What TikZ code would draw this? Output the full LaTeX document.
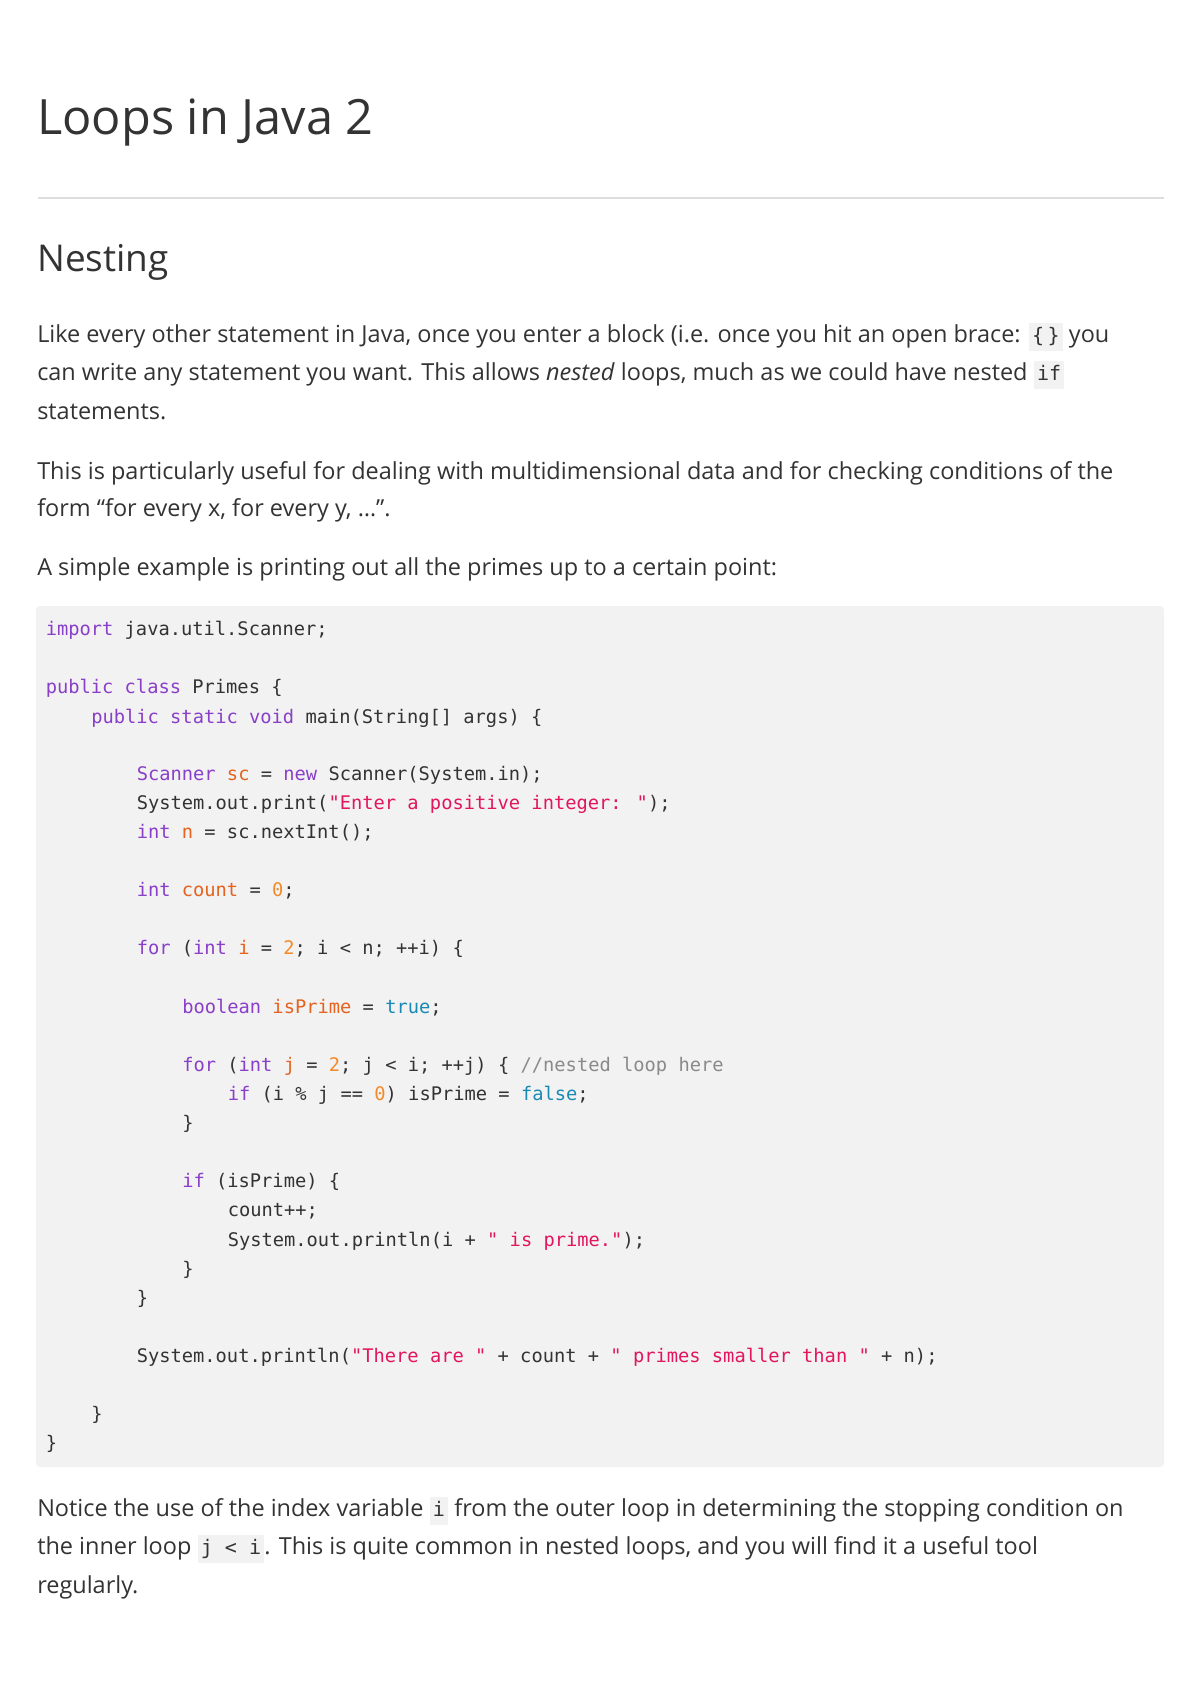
\documentclass[tikz,border=0pt]{standalone}
\usepackage{fontspec}
\setmainfont{Open Sans}
\newfontfamily\cf{DejaVu Sans Mono}
\definecolor{txt}{HTML}{333333}
\definecolor{codebg}{HTML}{F2F2F2}
\definecolor{kw}{HTML}{8A3FC8}
\definecolor{vr}{HTML}{E5631E}
\definecolor{nm}{HTML}{F28A2A}
\definecolor{st}{HTML}{E2165E}
\definecolor{bl}{HTML}{1A8AB5}
\definecolor{cm}{HTML}{8A8A8A}
\definecolor{rulec}{HTML}{DDDDDD}
\newcommand{\K}[1]{\textcolor{kw}{#1}}
\newcommand{\V}[1]{\textcolor{vr}{#1}}
\newcommand{\N}[1]{\textcolor{nm}{#1}}
\newcommand{\Sx}[1]{\textcolor{st}{#1}}
\newcommand{\B}[1]{\textcolor{bl}{#1}}
\newcommand{\C}[1]{\textcolor{cm}{#1}}
\newcommand{\ic}[1]{{\setlength\fboxsep{2.5pt}\colorbox{codebg}{\cf\fontsize{15pt}{15pt}\selectfont\strut #1}}}
\begin{document}
\begin{tikzpicture}[x=0.75pt,y=-0.75pt,
  body/.style={anchor=base west,inner sep=0,text=txt,font=\fontsize{17.6pt}{20pt}\selectfont},
  code/.style={anchor=base west,inner sep=0,text=txt,font=\cf\fontsize{14.05pt}{17pt}\selectfont}]
\useasboundingbox[fill=white] (0,0) rectangle (1200,1698);
\node[body,font=\fontsize{36.5pt}{44pt}\selectfont] (title) at (37,135) {Loops in Java 2};
\draw[rulec,line width=2.2pt] (38,198) -- (1164,198);
\node[body,font=\fontsize{27.7pt}{34pt}\selectfont] (nest) at (37,271) {Nesting};
\node[body] (p1) at (37,342) {Like every other statement in Java, once you enter a block (i.e. once you hit an open brace: \ic{\{\,\}} you};
\node[body] (p2) at (37,380) {can write any statement you want. This allows \textit{nested} loops, much as we could have nested \ic{if}};
\node[body] (p3) at (37,419) {statements.};
\node[body] (p4) at (37,479) {This is particularly useful for dealing with multidimensional data and for checking conditions of the};
\node[body] (p5) at (37,516) {form ``for every x, for every y, \dots''.};
\node[body] (p6) at (37,575) {A simple example is printing out all the primes up to a certain point:};
\fill[codebg,rounded corners=3pt] (36,606) rectangle (1164,1467);
\def\a{45.5}\def\b{91}\def\c{136.5}\def\d{182}\def\e{227.5}
\node[code] (c1) at (\a,635) {\K{import} java.util.Scanner;};
\node[code] (c2) at (\a,693) {\K{public} \K{class} Primes \{};
\node[code] (c3) at (\b,723) {\K{public} \K{static} \K{void} main(String[] args) \{};
\node[code] (c4) at (\c,780) {\K{Scanner} \V{sc} = \K{new} Scanner(System.in);};
\node[code] (c5) at (\c,809) {System.out.print(\Sx{"Enter a positive integer: "});};
\node[code] (c6) at (\c,838) {\K{int} \V{n} = sc.nextInt();};
\node[code] (c7) at (\c,896) {\K{int} \V{count} = \N{0};};
\node[code] (c8) at (\c,954) {\K{for} (\K{int} \V{i} = \N{2}; i < n; ++i) \{};
\node[code] (c9) at (\d,1013) {\K{boolean} \V{isPrime} = \B{true};};
\node[code] (c10) at (\d,1071) {\K{for} (\K{int} \V{j} = \N{2}; j < i; ++j) \{ \C{//nested loop here}};
\node[code] (c11) at (\e,1100) {\K{if} (i \% j == \N{0}) isPrime = \B{false};};
\node[code] (c12) at (\d,1129) {\}};
\node[code] (c13) at (\d,1187) {\K{if} (isPrime) \{};
\node[code] (c14) at (\e,1216) {count++;};
\node[code] (c15) at (\e,1246) {System.out.println(i + \Sx{" is prime."});};
\node[code] (c16) at (\d,1275) {\}};
\node[code] (c17) at (\c,1304) {\}};
\node[code] (c18) at (\c,1362) {System.out.println(\Sx{"There are "} + count + \Sx{" primes smaller than "} + n);};
\node[code] (c19) at (\b,1420) {\}};
\node[code] (c20) at (\a,1449) {\}};
\node[body] (q1) at (37,1516) {Notice the use of the index variable \ic{i} from the outer loop in determining the stopping condition on};
\node[body] (q2) at (37,1554) {the inner loop \ic{j < i}. This is quite common in nested loops, and you will find it a useful tool};
\node[body] (q3) at (37,1593) {regularly.};
\end{tikzpicture}
\end{document}
